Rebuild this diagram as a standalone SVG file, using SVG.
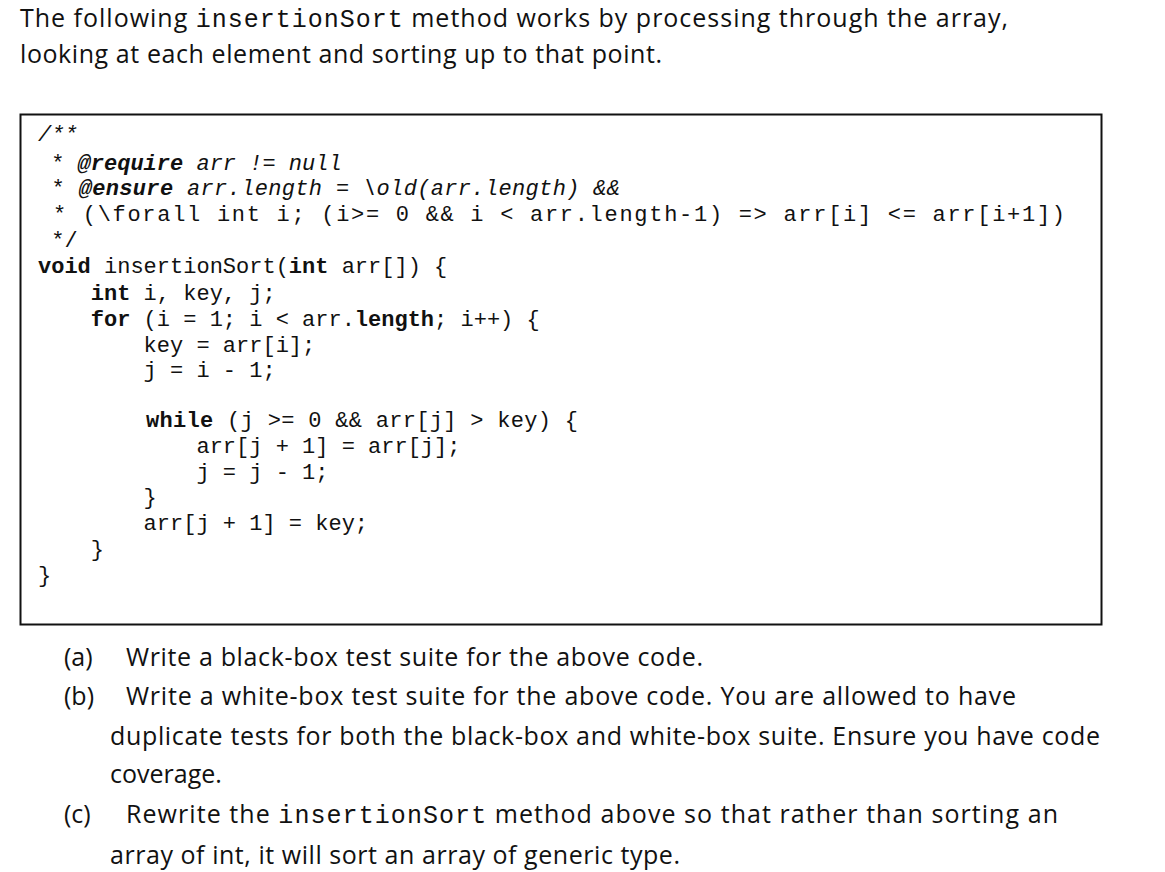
<svg xmlns="http://www.w3.org/2000/svg" width="1165" height="872" viewBox="0 0 1165 872">
<style>
.t{font-family:"Open Sans","Liberation Sans",sans-serif;font-size:25px;fill:#111}
.m{font-family:"Liberation Mono",monospace;font-size:22px;fill:#111;white-space:pre}
.b{font-weight:bold}
.i{font-style:italic}
</style>
<rect width="1165" height="872" fill="#fff"/>
<g id="intro">
<text class="t" x="20" y="27" textLength="988">The following <tspan class="m" style="font-size:25px">insertionSort</tspan> method works by processing through the array,</text>
<text class="t" x="20" y="63" textLength="642">looking at each element and sorting up to that point.</text>
</g>
<g id="code">
<rect x="20.5" y="114.5" width="1081" height="510" fill="none" stroke="#111" stroke-width="2"/>
<text class="m i" x="38" y="141">/**</text>
<text class="m" x="38" y="170" xml:space="preserve"> * <tspan class="b i">@require</tspan><tspan class="i"> arr != null</tspan></text>
<text class="m" x="38" y="195" xml:space="preserve" textLength="582"> * <tspan class="b i">@ensure</tspan><tspan class="i"> arr.length = \old(arr.length) &amp;&amp;</tspan></text>
<text class="m" x="38" y="221" xml:space="preserve" textLength="1027"> * (\forall int i; (i&gt;= 0 &amp;&amp; i &lt; arr.length-1) =&gt; arr[i] &lt;= arr[i+1])</text>
<text class="m" x="38" y="247" xml:space="preserve"> */</text>
<text class="m" x="38" y="273" xml:space="preserve"><tspan class="b">void</tspan> insertionSort(<tspan class="b">int</tspan> arr[]) {</text>
<text class="m" x="38" y="300" xml:space="preserve">    <tspan class="b">int</tspan> i, key, j;</text>
<text class="m" x="38" y="326" xml:space="preserve">    <tspan class="b">for</tspan> (i = 1; i &lt; arr.<tspan class="b">length</tspan>; i++) {</text>
<text class="m" x="38" y="352" xml:space="preserve">        key = arr[i];</text>
<text class="m" x="38" y="377" xml:space="preserve">        j = i - 1;</text>
<text class="m" x="38" y="427" xml:space="preserve" textLength="540">        <tspan class="b">while</tspan> (j &gt;= 0 &amp;&amp; arr[j] &gt; key) {</text>
<text class="m" x="38" y="453" xml:space="preserve">            arr[j + 1] = arr[j];</text>
<text class="m" x="38" y="479" xml:space="preserve">            j = j - 1;</text>
<text class="m" x="38" y="504" xml:space="preserve">        }</text>
<text class="m" x="38" y="530" xml:space="preserve">        arr[j + 1] = key;</text>
<text class="m" x="38" y="556" xml:space="preserve">    }</text>
<text class="m" x="38" y="582" xml:space="preserve">}</text>
</g>
<g id="questions">
<text class="t" x="64" y="666">(a)</text>
<text class="t" x="126" y="666" textLength="577">Write a black-box test suite for the above code.</text>
<text class="t" x="64" y="705">(b)</text>
<text class="t" x="126" y="705" textLength="890">Write a white-box test suite for the above code.  You are allowed to have</text>
<text class="t" x="110" y="745" textLength="990">duplicate tests for both the black-box and white-box suite.  Ensure you have code</text>
<text class="t" x="110" y="783">coverage.</text>
<text class="t" x="64" y="823">(c)</text>
<text class="t" x="126" y="823" textLength="932">Rewrite the <tspan class="m" style="font-size:25px">insertionSort</tspan> method above so that rather than sorting an</text>
<text class="t" x="110" y="864" textLength="570">array of int, it will sort an array of generic type.</text>
</g>
</svg>
